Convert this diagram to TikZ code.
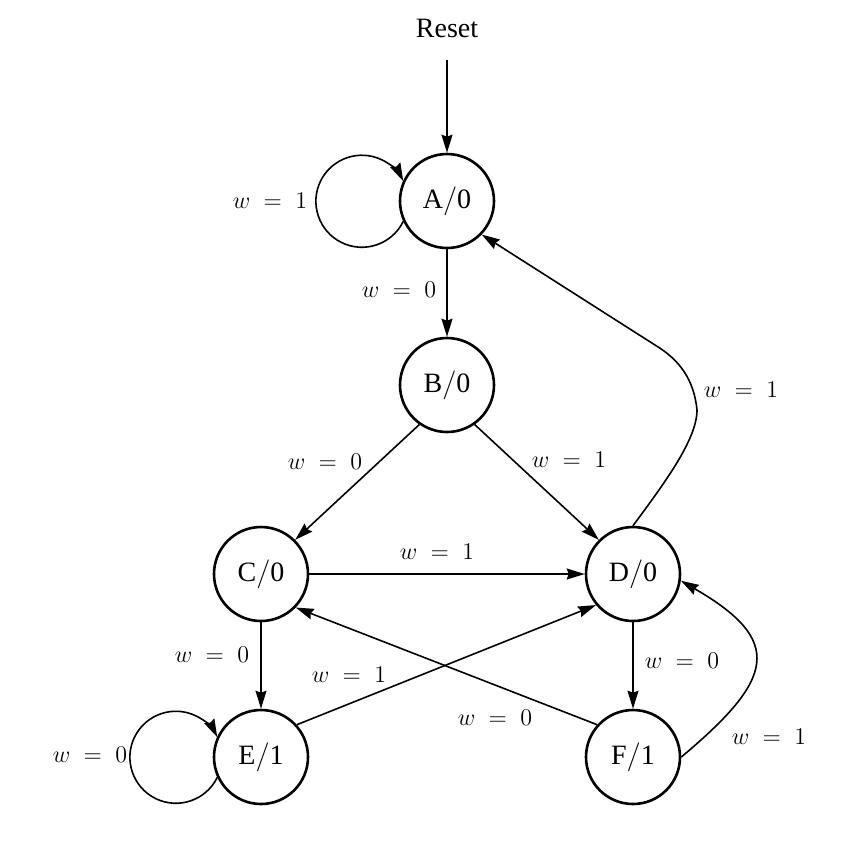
\documentclass[tikz,border=0pt]{standalone}
\usepackage{fontspec}
\setmainfont{Liberation Serif}
\usetikzlibrary{arrows.meta}

\begin{document}
\begin{tikzpicture}[x=0.5pt,y=0.5pt,
  state/.style={circle,draw,line width=1.3pt,minimum size=47pt,inner sep=0pt,font=\fontsize{14}{16}\selectfont},
  lbl/.style={font=\fontsize{13}{15}\selectfont},
  trans/.style={line width=0.8pt,-{Stealth[length=9pt,width=5.5pt,inset=1pt]}}]
\useasboundingbox (0,0) rectangle (855,-853);

\node[font=\fontsize{14}{16}\selectfont] (reset) at (447,-28) {Reset};
\coordinate (r) at (447,-60);

\node[state] (A) at (447,-201) {A$/$0};
\node[state] (B) at (447,-385) {B$/$0};
\node[state] (C) at (261,-574) {C$/$0};
\node[state] (D) at (633,-574) {D$/$0};
\node[state] (E) at (261,-757) {E$/$1};
\node[state] (F) at (633,-757) {F$/$1};

\draw[trans] (r) -- (A.north);
\draw[trans] (A.205) arc[start angle=-26,end angle=-334,radius=46];
\draw[trans] (A.south) -- (B.north);
\draw[trans] (B.235) -- (C.45);
\draw[trans] (B.-55) -- (D.135);
\draw[trans] (C.east) -- (D.west);
\draw[trans] (D.north) .. controls (663,-485) and (697,-440) .. (697,-410)
  .. controls (694,-380) and (680,-360) .. (655,-345) -- (A.-44);
\draw[trans] (C.south) -- (E.north);
\draw[trans] (E.42) -- (D.220);
\draw[trans] (E.205) arc[start angle=-26,end angle=-334,radius=46];
\draw[trans] (D.south) -- (F.north);
\draw[trans] (F.138) -- (C.-44);
\draw[trans] (F.east) to[out=40,in=-30,looseness=1.75] (D.-8);

\node[lbl] (lAA) at (270,-201) {$w \;=\; 1$};
\node[lbl] (lAB) at (399,-290) {$w \;=\; 0$};
\node[lbl] (lBC) at (325,-462) {$w \;=\; 0$};
\node[lbl] (lBD) at (569,-460) {$w \;=\; 1$};
\node[lbl] (lCD) at (437,-552) {$w \;=\; 1$};
\node[lbl] (lDA) at (741,-390) {$w \;=\; 1$};
\node[lbl] (lCE) at (212,-655) {$w \;=\; 0$};
\node[lbl] (lED) at (349,-675) {$w \;=\; 1$};
\node[lbl] (lEE) at (90,-755) {$w \;=\; 0$};
\node[lbl] (lDF) at (682,-661) {$w \;=\; 0$};
\node[lbl] (lFC) at (495,-718) {$w \;=\; 0$};
\node[lbl] (lFD) at (769,-737) {$w \;=\; 1$};

\end{tikzpicture}
\end{document}
